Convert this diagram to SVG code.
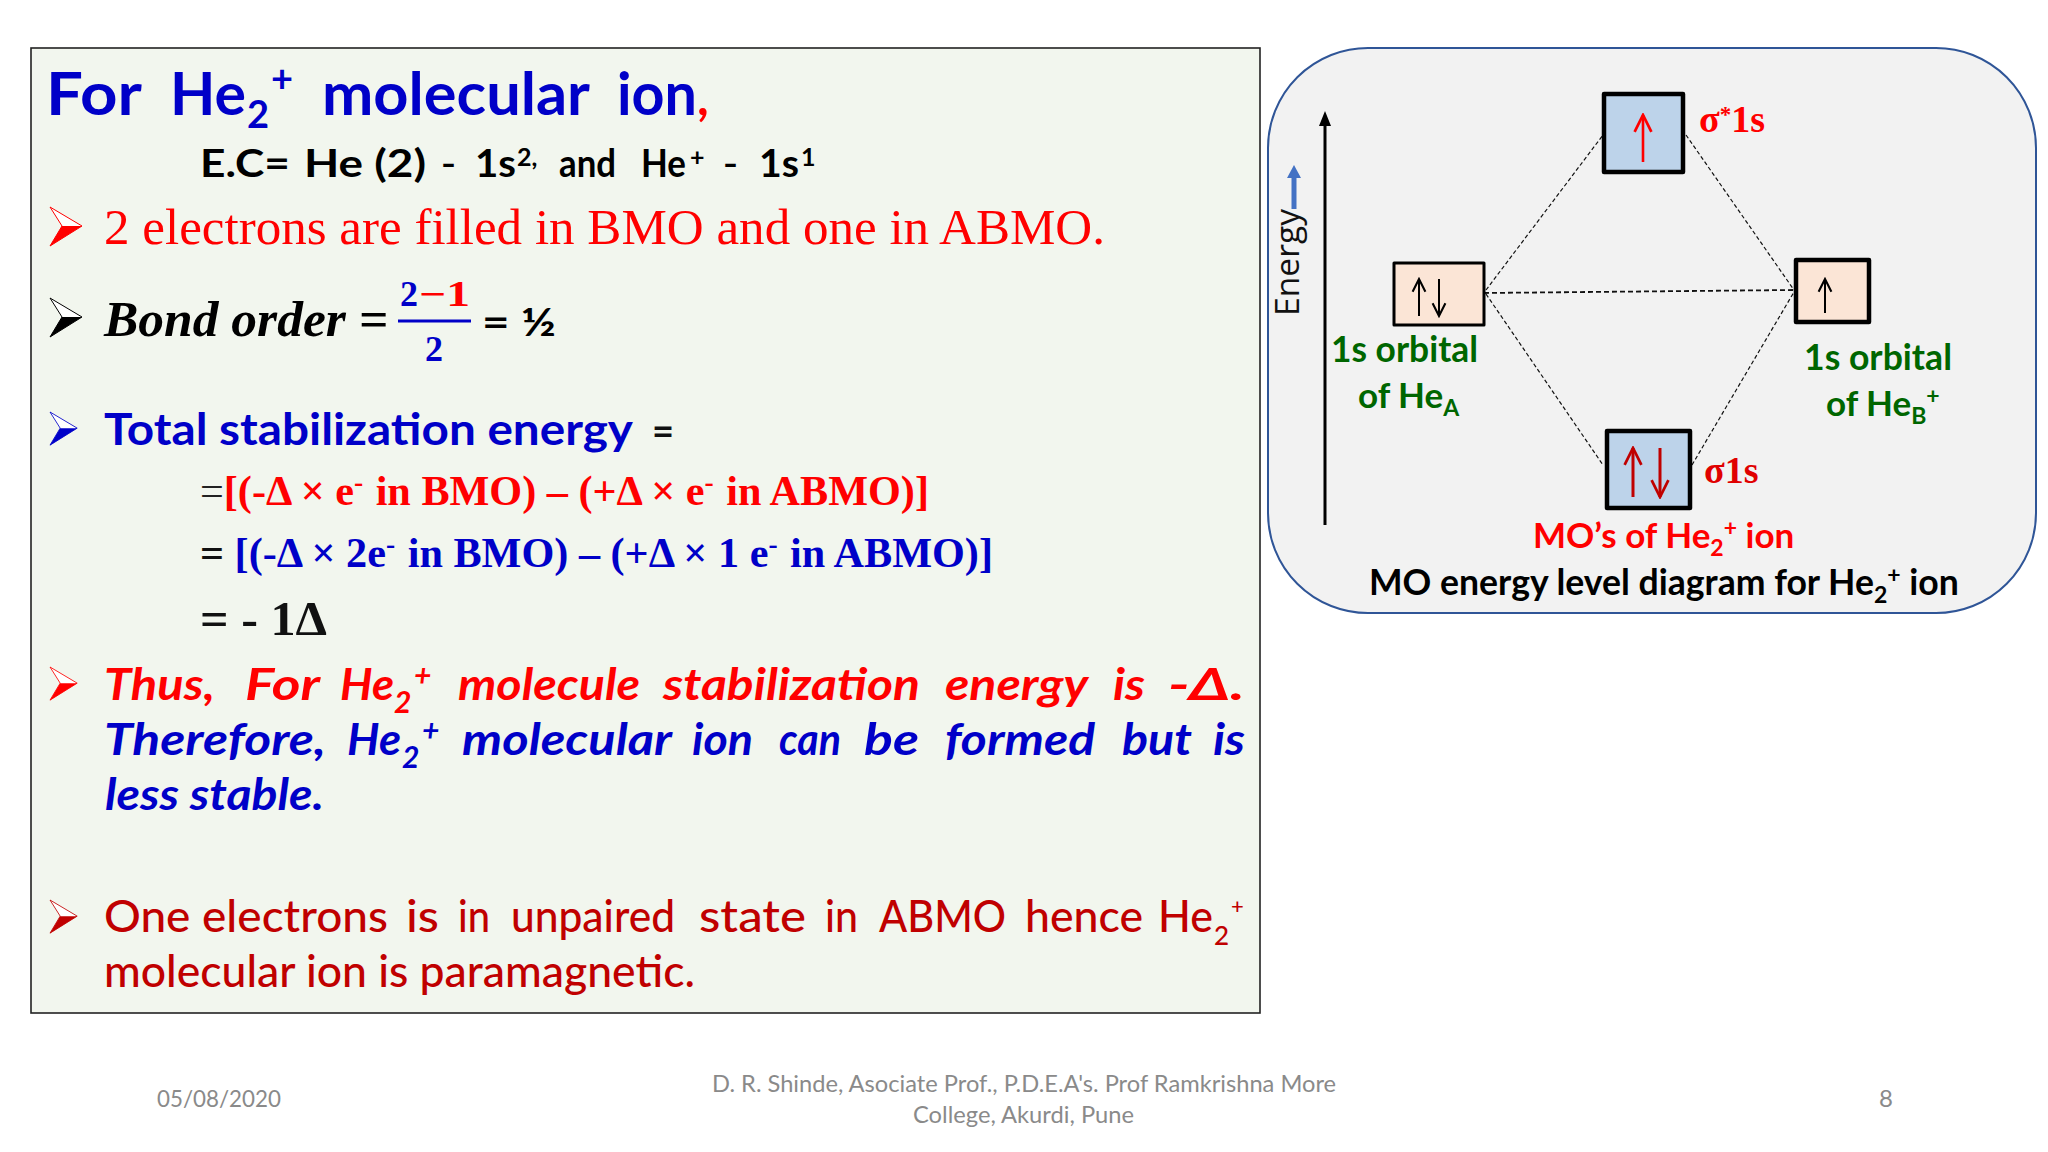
<svg xmlns="http://www.w3.org/2000/svg" width="2048" height="1152" viewBox="0 0 2048 1152">
<style>
.h{font-family:"Lato","Open Sans",sans-serif;font-weight:700}
.i{font-family:"Lato","Open Sans",sans-serif;font-weight:700;font-style:italic}
.r{font-family:"Lato","Open Sans",sans-serif;font-weight:500}
.s{font-family:"Liberation Serif",serif}
.b{font-weight:700}
.c{font-family:"Lato","Open Sans",sans-serif;font-weight:700}
.f{font-family:"Lato","Open Sans",sans-serif;font-size:24px;fill:#8a8a8a}
.dash{stroke:#111;stroke-width:1.2;stroke-dasharray:4 2.5;fill:none}
.box{stroke:#000;stroke-linejoin:round}
</style>
<defs>
<marker id="op" viewBox="0 0 10 10" refX="9" refY="5" markerWidth="16" markerHeight="16" orient="auto" markerUnits="userSpaceOnUse"><path d="M1 1L9 5L1 9" fill="none" stroke="context-stroke" stroke-width="1.3"/></marker>
<marker id="op2" viewBox="0 0 10 10" refX="9" refY="5" markerWidth="21" markerHeight="21" orient="auto" markerUnits="userSpaceOnUse"><path d="M1 1L9 5L1 9" fill="none" stroke="context-stroke" stroke-width="1.3"/></marker>
<path id="bul" d="M0 0L32 19L0 39L12 19Z" fill="#fff" stroke="currentColor" stroke-width="1"/>
<path id="bulf" d="M32 19L0 39L12 19Z" fill="currentColor"/>
<g id="bullet"><use href="#bul"/><use href="#bulf"/></g>
</defs>
<rect width="2048" height="1152" fill="#fff"/>

<g id="text-panel">
<rect x="31" y="48" width="1229" height="965" fill="#f2f6ee" stroke="#222" stroke-width="1.6"/>

<g id="title" class="h" fill="#0000c8">
<text x="46" y="115" font-size="60" textLength="96" lengthAdjust="spacingAndGlyphs">For</text>
<text x="170" y="115" font-size="60" textLength="76" lengthAdjust="spacingAndGlyphs">He</text>
<text x="247" y="128" font-size="38">2</text>
<text x="271" y="92" font-size="38">+</text>
<text x="322" y="115" font-size="60" textLength="268" lengthAdjust="spacingAndGlyphs">molecular</text>
<text x="617" y="115" font-size="60" textLength="80" lengthAdjust="spacingAndGlyphs">ion</text>
<text x="697" y="115" font-size="50" fill="#ff0000">,</text>
</g>

<g id="ec" class="c" font-size="39" fill="#000">
<text x="200" y="177" textLength="90" lengthAdjust="spacingAndGlyphs">E.C=</text>
<text x="304" y="177" textLength="122" lengthAdjust="spacingAndGlyphs">He (2)</text>
<text x="441" y="177" textLength="15" lengthAdjust="spacingAndGlyphs">–</text>
<text x="475" y="177" textLength="41" lengthAdjust="spacingAndGlyphs">1s</text>
<text x="517" y="166" font-size="25">2,</text>
<text x="559" y="177" textLength="57" lengthAdjust="spacingAndGlyphs">and</text>
<text x="641" y="177" textLength="45" lengthAdjust="spacingAndGlyphs">He</text>
<text x="690" y="166" font-size="25">+</text>
<text x="723" y="177" textLength="15" lengthAdjust="spacingAndGlyphs">–</text>
<text x="759" y="177" textLength="40" lengthAdjust="spacingAndGlyphs">1s</text>
<text x="801" y="166" font-size="25">1</text>
</g>

<g id="line-bmo">
<use href="#bullet" x="50" y="207" color="#ff0000"/>
<text class="s" x="104" y="244" font-size="51" fill="#ff0000" textLength="1001" lengthAdjust="spacingAndGlyphs">2 electrons are filled in BMO and one in ABMO.</text>
</g>

<g id="line-bond">
<use href="#bullet" x="50" y="298" color="#000"/>
<text class="s b" x="104" y="336" font-size="51" font-style="italic" fill="#000" textLength="284" lengthAdjust="spacingAndGlyphs">Bond order =</text>
<text class="s b" x="400" y="306" font-size="36" fill="#0000c8">2</text>
<text class="s b" x="419" y="306" font-size="36" fill="#ff0000" textLength="51" lengthAdjust="spacingAndGlyphs">−1</text>
<line x1="398" y1="321" x2="471" y2="321" stroke="#0000c8" stroke-width="3"/>
<text class="s b" x="425" y="361" font-size="36" fill="#0000c8">2</text>
<text class="c" x="482" y="336" font-size="39" fill="#000" textLength="74" lengthAdjust="spacingAndGlyphs">= ½</text>
</g>

<g id="line-total">
<use href="#bullet" transform="translate(50 412) scale(.85)" color="#0000c8"/>
<text class="h" x="104" y="445" font-size="43" fill="#0000c8" textLength="529" lengthAdjust="spacingAndGlyphs">Total stabilization energy</text>
<text class="c" x="652" y="445" font-size="38" fill="#111">=</text>
</g>

<g id="line-eq" class="s b" font-size="43">
<text x="200" y="505" fill="#ff0000" textLength="729" lengthAdjust="spacingAndGlyphs"><tspan fill="#222" font-weight="400">=</tspan>[(-Δ × e<tspan dy="-14" font-size="28">-</tspan><tspan dy="14" dx="2"> in BMO) – (+Δ × e</tspan><tspan dy="-14" font-size="28">-</tspan><tspan dy="14" dx="2"> in ABMO)]</tspan></text>
<text x="200" y="567" fill="#0000c8" textLength="793" lengthAdjust="spacingAndGlyphs"><tspan fill="#111">=</tspan> [(-Δ × 2e<tspan dy="-14" font-size="28">-</tspan><tspan dy="14" dx="2"> in BMO) – (+Δ × 1 e</tspan><tspan dy="-14" font-size="28">-</tspan><tspan dy="14" dx="2"> in ABMO)]</tspan></text>
<text x="200" y="635" fill="#111" font-size="48" textLength="127" lengthAdjust="spacingAndGlyphs">= - 1Δ</text>
</g>

<g id="line-thus" class="i" font-size="44">
<use href="#bullet" transform="translate(50 667) scale(.85)" color="#ff0000"/>
<g fill="#ff0000">
<text x="104" y="700" textLength="111" lengthAdjust="spacingAndGlyphs">Thus,</text>
<text x="245" y="700" textLength="75" lengthAdjust="spacingAndGlyphs">For</text>
<text x="340" y="700" textLength="54" lengthAdjust="spacingAndGlyphs">He</text>
<text x="394" y="713" font-size="30">2</text>
<text x="414" y="686" font-size="30">+</text>
<text x="458" y="700" textLength="182" lengthAdjust="spacingAndGlyphs">molecule</text>
<text x="663" y="700" textLength="257" lengthAdjust="spacingAndGlyphs">stabilization</text>
<text x="945" y="700" textLength="143" lengthAdjust="spacingAndGlyphs">energy</text>
<text x="1113" y="700" textLength="32" lengthAdjust="spacingAndGlyphs">is</text>
<text x="1168" y="700" textLength="77" lengthAdjust="spacingAndGlyphs">-Δ.</text>
</g>
<g fill="#0000c8">
<text x="104" y="755" textLength="222" lengthAdjust="spacingAndGlyphs">Therefore,</text>
<text x="347" y="755" textLength="54" lengthAdjust="spacingAndGlyphs">He</text>
<text x="402" y="768" font-size="30">2</text>
<text x="422" y="741" font-size="30">+</text>
<text x="462" y="755" textLength="210" lengthAdjust="spacingAndGlyphs">molecular</text>
<text x="692" y="755" textLength="61" lengthAdjust="spacingAndGlyphs">ion</text>
<text x="779" y="755" textLength="62" lengthAdjust="spacingAndGlyphs">can</text>
<text x="864" y="755" textLength="55" lengthAdjust="spacingAndGlyphs">be</text>
<text x="945" y="755" textLength="150" lengthAdjust="spacingAndGlyphs">formed</text>
<text x="1122" y="755" textLength="70" lengthAdjust="spacingAndGlyphs">but</text>
<text x="1213" y="755" textLength="32" lengthAdjust="spacingAndGlyphs">is</text>
<text x="105" y="810" textLength="219" lengthAdjust="spacingAndGlyphs">less stable.</text>
</g>
</g>

<g id="line-one" class="r" font-size="44" fill="#c00000">
<use href="#bullet" transform="translate(50 900) scale(.85)" color="#c00000"/>
<text x="104" y="932" textLength="284" lengthAdjust="spacingAndGlyphs">One electrons</text>
<text x="406" y="932" textLength="33" lengthAdjust="spacingAndGlyphs">is</text>
<text x="458" y="932" textLength="32" lengthAdjust="spacingAndGlyphs">in</text>
<text x="511" y="932" textLength="164" lengthAdjust="spacingAndGlyphs">unpaired</text>
<text x="699" y="932" textLength="107" lengthAdjust="spacingAndGlyphs">state</text>
<text x="825" y="932" textLength="33" lengthAdjust="spacingAndGlyphs">in</text>
<text x="879" y="932" textLength="127" lengthAdjust="spacingAndGlyphs">ABMO</text>
<text x="1025" y="932" textLength="118" lengthAdjust="spacingAndGlyphs">hence</text>
<text x="1158" y="932" textLength="55" lengthAdjust="spacingAndGlyphs">He</text>
<text x="1214" y="945" font-size="26">2</text>
<text x="1231" y="914" font-size="22">+</text>
<text x="104" y="987" textLength="591" lengthAdjust="spacingAndGlyphs">molecular ion is paramagnetic.</text>
</g>
</g>

<g id="mo-panel">
<rect x="1268" y="48" width="768" height="565" rx="100" ry="100" fill="#f2f2f2" stroke="#2f5597" stroke-width="2"/>
</g>

<g id="connectors">
<path class="dash" d="M1486 290L1603 135"/>
<path class="dash" d="M1686 135L1794 290"/>
<path class="dash" d="M1486 294L1603 465"/>
<path class="dash" d="M1692 465L1794 292"/>
<path class="dash" style="stroke-width:1.8;stroke-dasharray:5 3" d="M1484 293L1794 290"/>
<line x1="1325" y1="525" x2="1325" y2="122" stroke="#000" stroke-width="3"/>
<path d="M1319 126L1325 111L1331 126Z" fill="#000"/>
<line x1="1294" y1="209" x2="1294" y2="175" stroke="#4472c4" stroke-width="5"/>
<path d="M1287 178L1294 165L1301 178Z" fill="#4472c4"/>
</g>

<g id="energy-label"><text style="font-family:'Open Sans',sans-serif" transform="translate(1299 316) rotate(-90)" font-size="33" fill="#111" textLength="107" lengthAdjust="spacingAndGlyphs">Energy</text></g>

<g id="node-sigma-star">
<rect class="box" x="1604" y="94" width="79" height="78" fill="#bdd3ea" stroke-width="4.5"/>
<line x1="1643" y1="162" x2="1643" y2="115" stroke="#ff0000" stroke-width="2.6" marker-end="url(#op2)"/>
<text class="s b" x="1699" y="132" font-size="38" fill="#ff0000">σ<tspan dy="-10" font-size="23">*</tspan><tspan dy="10">1s</tspan></text>
</g>

<g id="node-he-a">
<rect class="box" x="1394" y="263" width="90" height="62" fill="#fbe5d6" stroke-width="3"/>
<line x1="1419" y1="316" x2="1419" y2="279" stroke="#000" stroke-width="2" marker-end="url(#op)"/>
<line x1="1439" y1="279" x2="1439" y2="316" stroke="#000" stroke-width="2" marker-end="url(#op)"/>
<text class="c" font-size="36" fill="#006600" x="1331" y="362" textLength="147" lengthAdjust="spacingAndGlyphs">1s orbital</text>
<text class="c" font-size="35" fill="#006600" x="1358" y="408">of He<tspan dy="8" font-size="23">A</tspan></text>
</g>

<g id="node-he-b">
<rect class="box" x="1796" y="260" width="73" height="62" fill="#fbe5d6" stroke-width="4.5"/>
<line x1="1825" y1="313" x2="1825" y2="279" stroke="#000" stroke-width="2" marker-end="url(#op)"/>
<text class="c" font-size="36" fill="#006600" x="1804" y="370" textLength="148" lengthAdjust="spacingAndGlyphs">1s orbital</text>
<text class="c" font-size="35" fill="#006600" x="1826" y="416">of He<tspan dy="8" font-size="23">B</tspan><tspan dy="-20" font-size="23">+</tspan></text>
</g>

<g id="node-sigma">
<rect class="box" x="1607" y="431" width="83" height="77" fill="#bdd3ea" stroke-width="4.5"/>
<line x1="1633" y1="497" x2="1633" y2="448" stroke="#c00000" stroke-width="3" marker-end="url(#op2)"/>
<line x1="1660" y1="448" x2="1660" y2="497" stroke="#c00000" stroke-width="3" marker-end="url(#op2)"/>
<text class="s b" x="1704" y="483" font-size="38" fill="#e00000">σ1s</text>
</g>

<g id="captions" class="c">
<text x="1533" y="548" font-size="35" fill="#ff0000">MO’s of He<tspan dy="8" font-size="23">2</tspan><tspan dy="-20" font-size="23">+</tspan><tspan dy="12"> ion</tspan></text>
<text x="1369" y="595" font-size="35.6" fill="#000">MO energy level diagram for He<tspan dy="8" font-size="23">2</tspan><tspan dy="-20" font-size="23">+</tspan><tspan dy="12"> ion</tspan></text>
</g>

<g id="footer">
<text class="f" x="157" y="1107" textLength="124" lengthAdjust="spacingAndGlyphs">05/08/2020</text>
<text class="f" x="712" y="1092" textLength="624" lengthAdjust="spacingAndGlyphs">D. R. Shinde, Asociate Prof., P.D.E.A's. Prof Ramkrishna More</text>
<text class="f" x="913" y="1123" textLength="221" lengthAdjust="spacingAndGlyphs">College, Akurdi, Pune</text>
<text class="f" x="1879" y="1107">8</text>
</g>
</svg>
